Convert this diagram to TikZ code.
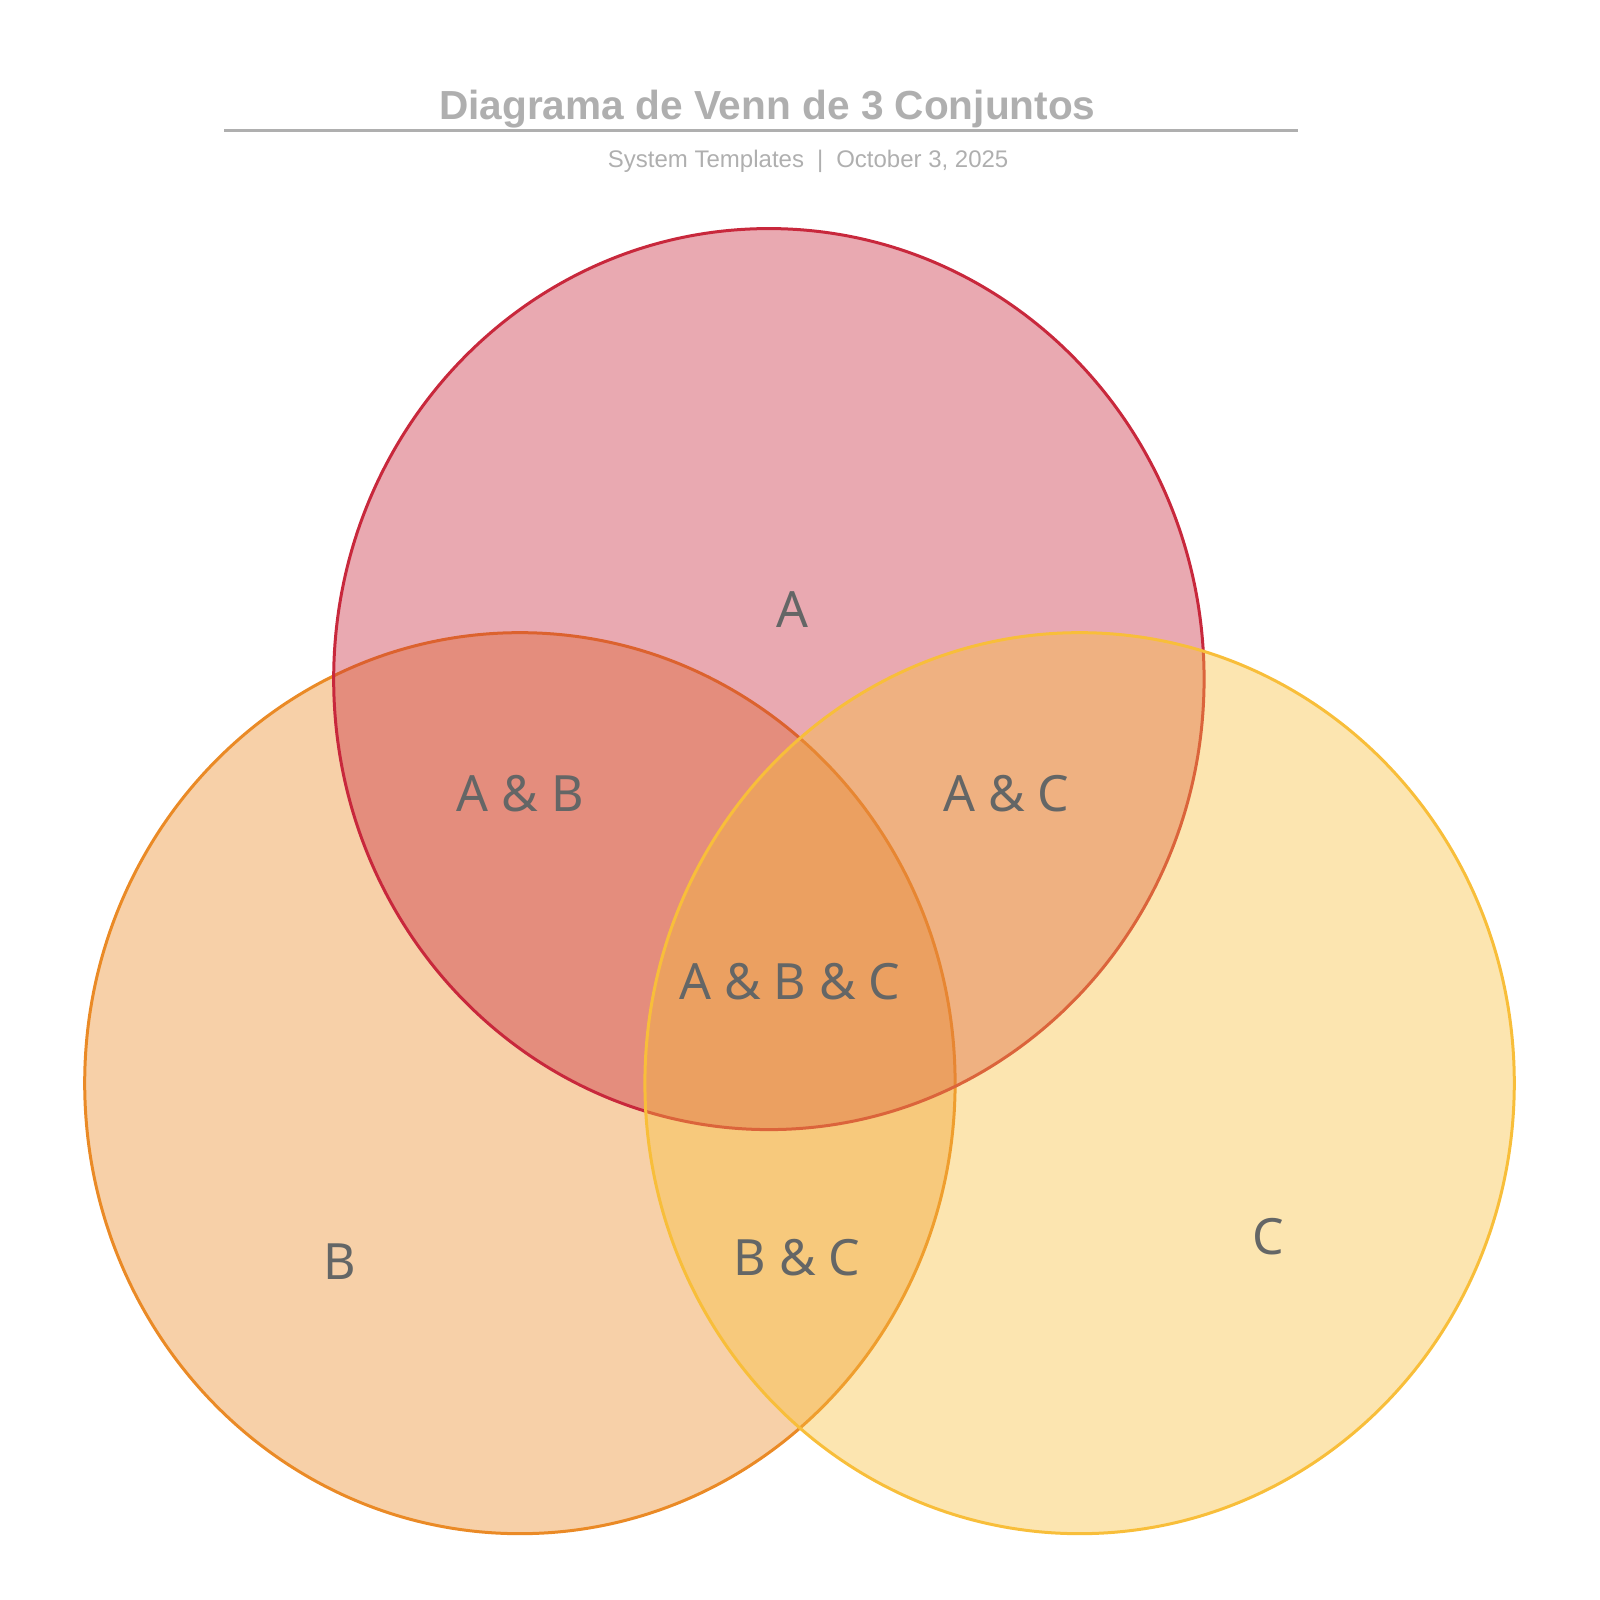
\documentclass[tikz,border=0pt]{standalone}
\usepackage{fontspec}
\setmainfont{Liberation Sans}
\newfontfamily\labelfont{Noto Sans}
\definecolor{acol}{RGB}{200,40,60}
\definecolor{bcol}{RGB}{234,138,38}
\definecolor{ccol}{RGB}{248,190,58}
\definecolor{txtgray}{RGB}{100,102,102}
\definecolor{titlegray}{RGB}{175,175,175}
\tikzset{
  setA/.style={draw=acol, fill=acol, fill opacity=0.4, draw opacity=1, line width=3pt},
  setB/.style={draw=bcol, fill=bcol, fill opacity=0.4, draw opacity=1, line width=3pt},
  setC/.style={draw=ccol, fill=ccol, fill opacity=0.4, draw opacity=1, line width=3pt},
  region/.style={inner sep=0pt, text=txtgray, font=\labelfont\fontsize{50}{60}\selectfont},
}
\begin{document}
\begin{tikzpicture}[x=1.0204pt,y=-1.0204pt]
\useasboundingbox (0,0) rectangle (1568,1568);
% title
\node[anchor=base, inner sep=0pt, text=titlegray, font=\bfseries\fontsize{40.6}{48}\selectfont] (title) at (752,117) {Diagrama de Venn de 3 Conjuntos};
\coordinate (rl) at (220,128);
\coordinate (rr) at (1272,128);
\draw[titlegray, line width=3pt] (rl) -- (rr);
\node[anchor=base, inner sep=0pt, text=titlegray, font=\fontsize{24}{28}\selectfont] (sub) at (792,164) {System Templates\hspace{13pt}|\hspace{13pt}October 3, 2025};
% sets
\path[setB] (509.5,1061.5) ellipse [x radius=426.5, y radius=441.5];
\path[setA] (753.5,665.5) ellipse [x radius=426.5, y radius=441.5];
\path[setC] (1058,1061.5) ellipse [x radius=426, y radius=441.5];
% labels
\node[region] (la) at (777,597) {A};
\node[region] (lab) at (510,778) {A \& B};
\node[region] (lac) at (986,778) {A \& C};
\node[region] (labc) at (774,962) {A \& B \& C};
\node[region] (lb) at (333,1236) {B};
\node[region] (lbc) at (781,1232) {B \& C};
\node[region] (lc) at (1243,1212) {C};
\end{tikzpicture}
\end{document}
